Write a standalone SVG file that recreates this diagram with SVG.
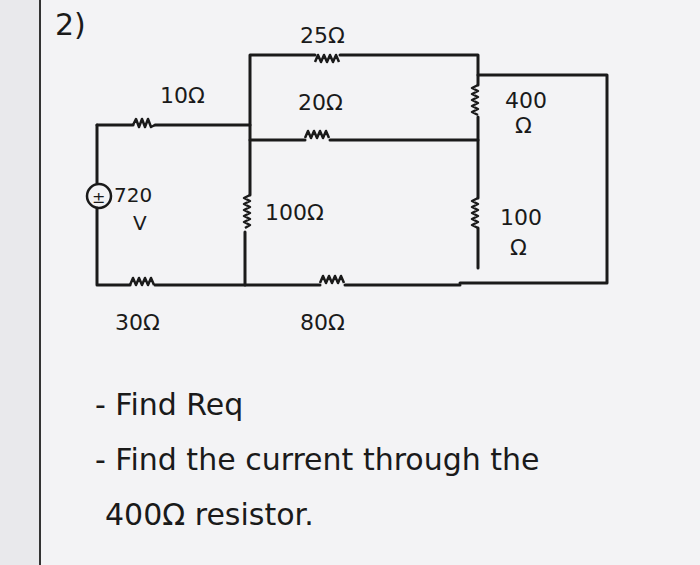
<svg xmlns="http://www.w3.org/2000/svg" width="700" height="565" viewBox="0 0 700 565">
<style>
.w{fill:none;stroke:#1a1a1a;stroke-width:3;stroke-linecap:round;stroke-linejoin:round}
.r{fill:none;stroke:#1a1a1a;stroke-width:2.5;stroke-linejoin:round}
text{font-family:"Comic Sans MS","DejaVu Sans",sans-serif;fill:#1a1a1a}
.l{font-size:22px}
.t{font-size:30px}
</style>
<rect width="700" height="565" fill="#e9e9ec"/>
<rect x="40" y="0" width="660" height="565" fill="#f3f3f5"/>
<line x1="40" y1="0" x2="40" y2="565" stroke="#333" stroke-width="2"/>
<text x="55" y="35" class="t">2)</text>
<g id="connectors">
<path class="w" d="M97,125 H133 M155,125 H250 V55 H315 M340,55 H478 V85 M478,117 V140 V198 M478,228 V268"/>
<path class="w" d="M250,140 H305 M330,140 H478"/>
<path class="w" d="M250,125 V195 M245,232 V285"/>
<path class="w" d="M478,75 H607 V283 H460"/>
<path class="w" d="M97,125 V183 M97,208 V285 H130 M155,285 H320 M345,285 H460"/>
</g>
<g id="src"><circle cx="99" cy="196" r="12" class="r"/><text x="92" y="203" font-size="16">±</text>
<text x="114" y="202" font-size="20">720</text><text x="133" y="230" font-size="20">V</text></g>
<g id="r10"><path class="r" d="M133,125 l3,-6 l3,8 l3,-8 l3,8 l3,-8 l3,8 l4,-2"/><text x="160" y="103" class="l">10Ω</text></g>
<g id="r25"><path class="r" d="M315,62 l3,-7 l3,7 l3,-7 l3,7 l3,-7 l3,7 l3,-7 l3,7"/><text x="300" y="43" class="l">25Ω</text></g>
<g id="r20"><path class="r" d="M305,138 l3,-7 l3,7 l3,-7 l3,7 l3,-7 l3,7 l3,-7 l3,7"/><text x="298" y="110" class="l">20Ω</text></g>
<g id="r400"><path class="r" d="M478,85 l-6,3 l6,3 l-6,3 l6,3 l-6,3 l6,3 l-6,3 l6,3 l-6,3 l6,3"/><text x="505" y="108" class="l">400</text><text x="515" y="133" class="l">Ω</text></g>
<g id="r100r"><path class="r" d="M478,198 l-6,3 l6,3 l-6,3 l6,3 l-6,3 l6,3 l-6,3 l6,3 l-6,3 l6,3"/><text x="500" y="225" class="l">100</text><text x="510" y="255" class="l">Ω</text></g>
<g id="r100m"><path class="r" d="M250,195 l-6,3 l6,3 l-6,3 l6,3 l-6,3 l6,3 l-6,3 l6,3 l-6,3 l6,3 l-5,3"/><text x="265" y="220" class="l">100Ω</text></g>
<g id="r30"><path class="r" d="M130,285 l3,-7 l3,7 l3,-7 l3,7 l3,-7 l3,7 l3,-7 l3,7"/><text x="115" y="330" class="l">30Ω</text></g>
<g id="r80"><path class="r" d="M320,283 l3,-7 l3,7 l3,-7 l3,7 l3,-7 l3,7 l3,-7 l3,7"/><text x="300" y="330" class="l">80Ω</text></g>
<text x="95" y="415" class="t">- Find Req</text>
<text x="95" y="470" class="t">- Find the current through the</text>
<text x="105" y="525" class="t">400Ω resistor.</text>
</svg>
